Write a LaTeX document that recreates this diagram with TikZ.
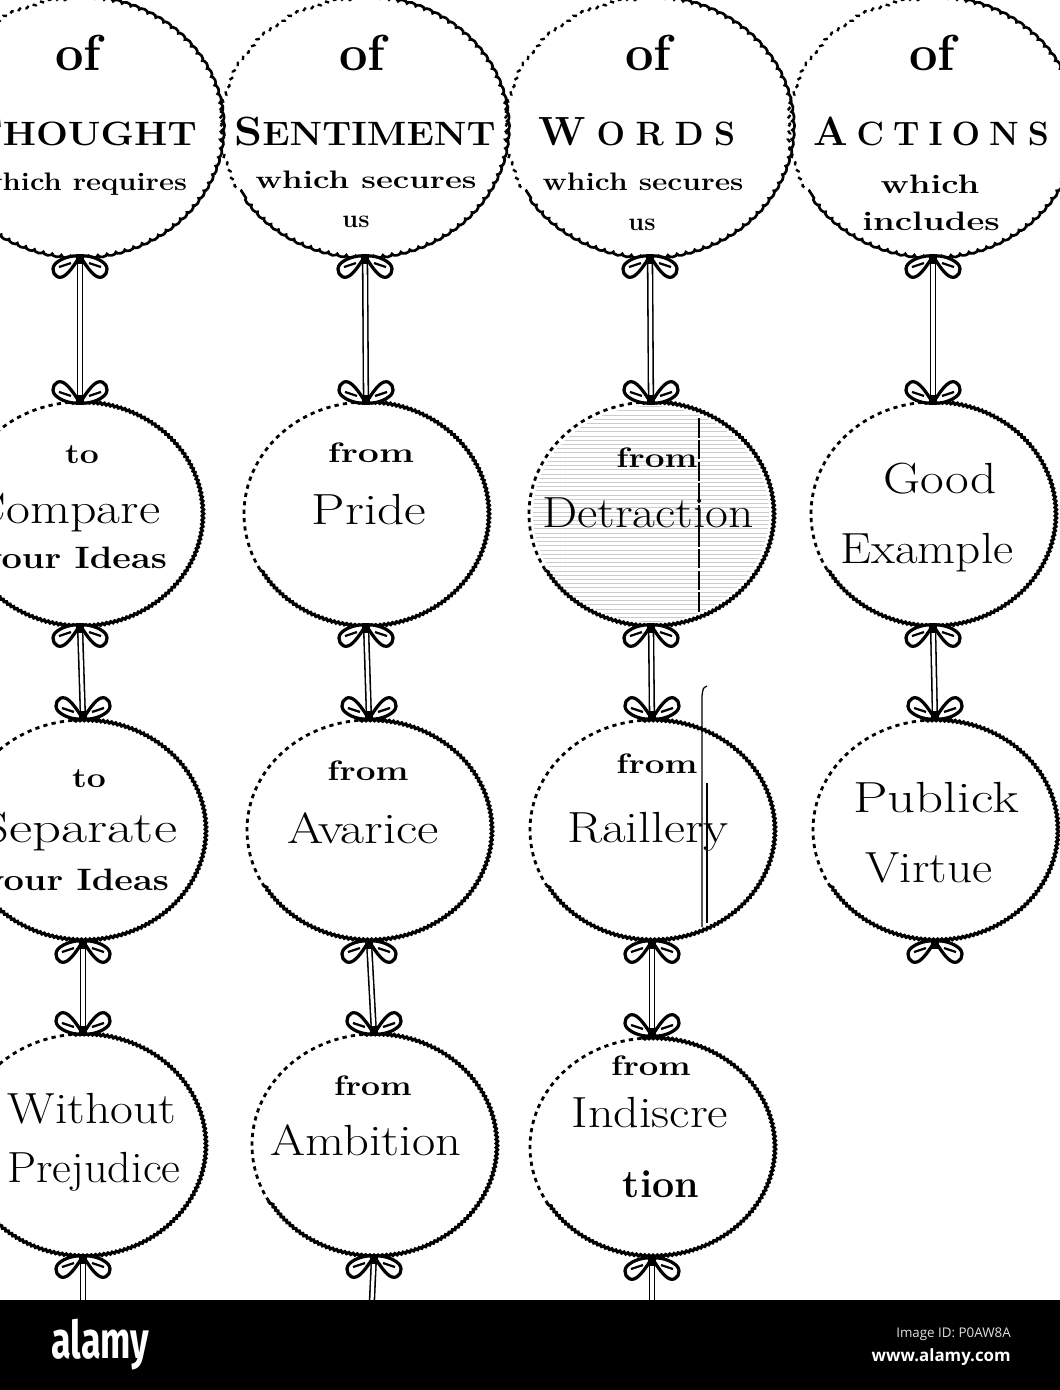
\documentclass[tikz,border=0pt]{standalone}
\usepackage{graphicx}
\usepackage{fontspec}
\newfontfamily\logofont{Fira Sans}
\newfontfamily\barfont{Open Sans}
\usetikzlibrary{shapes.geometric,decorations.pathmorphing,patterns}
\newcommand{\ws}[2]{\scalebox{#1}[1]{#2}}
\newcommand{\fs}[1]{\fontsize{#1}{#1}\selectfont}
\newcommand{\rim}[5]{%
  \draw[#4] ([shift={(95:#2 and #3)}]#1.center) arc[start angle=95, end angle=-150, x radius=#2, y radius=#3];
  \draw[#5] ([shift={(95:#2 and #3)}]#1.center) arc[start angle=95, end angle=210, x radius=#2, y radius=#3];
}
\tikzset{
  topball/.style={ellipse, draw=none, inner sep=0pt, outer sep=0pt, minimum width=7.1cm, minimum height=6.45cm},
  ball/.style={ellipse, draw=none, inner sep=0pt, outer sep=0pt, minimum width=6.1cm, minimum height=5.55cm},
  toprim/.style={line width=1.9pt, decorate, decoration={bumps, segment length=13pt, amplitude=1.8pt}},
  topdash/.style={line width=1.7pt, dash pattern=on 3pt off 3.5pt, decorate, decoration={snake, segment length=7pt, amplitude=1pt}},
  rimline/.style={line width=2.2pt, decorate, decoration={snake, segment length=3pt, amplitude=0.6pt}},
  rimdash/.style={line width=2pt, dash pattern=on 3pt off 3pt},
  stemline/.style={double=white, double distance=2.3pt, line width=1.1pt},
  bowline/.style={line width=2.3pt, fill=white, line join=round},
  txt/.style={anchor=base, inner sep=0pt, outer sep=0pt},
  scanline/.style={line width=0.9pt},
  bow/.pic={
    \draw[bowline] (0,0) .. controls (-8,1) and (-19,-2) .. (-25,-8) .. controls (-30,-14) and (-25,-23) .. (-18,-21) .. controls (-12,-19) and (-5,-8) .. (0,0);
    \draw[bowline] (0,0) .. controls (8,1) and (19,-2) .. (25,-8) .. controls (30,-14) and (25,-23) .. (18,-21) .. controls (12,-19) and (5,-8) .. (0,0);
    \draw[line width=1.6pt] (-21,-11) -- (-9,-7) (21,-11) -- (9,-7);
    \fill (-4,-8) rectangle (4,2);
  },
}
\begin{document}
\begin{tikzpicture}[x=0.025cm, y=0.025cm]
\clip (0,0) rectangle (1060,-1390);
\fill[white] (0,0) rectangle (1060,-1390);

% ---- nodes (balloons)
\node[topball] (r1c1) at (80,-127) {};
\node[topball] (r1c2) at (365,-127) {};
\node[topball] (r1c3) at (650,-127) {};
\node[topball] (r1c4) at (933,-127) {};
\node[ball] (r2c1) at (80,-514) {};
\node[ball] (r2c2) at (366,-514) {};
\node[ball] (r2c3) at (651,-514) {};
\node[ball] (r2c4) at (933,-514) {};
\node[ball] (r3c1) at (83,-830) {};
\node[ball] (r3c2) at (369,-830) {};
\node[ball] (r3c3) at (652,-830) {};
\node[ball] (r3c4) at (935,-830) {};
\node[ball] (r4c1) at (83,-1145) {};
\node[ball] (r4c2) at (374,-1145) {};
\node[ball] (r4c3) at (652,-1147) {};
\coordinate (e1) at (83,-1300);
\coordinate (e2) at (372,-1300);
\coordinate (e3) at (652,-1300);

% ---- stems
\draw[stemline] (r1c1.south) -- (r2c1.north);
\draw[stemline] (r1c2.south) -- (r2c2.north);
\draw[stemline] (r1c3.south) -- (r2c3.north);
\draw[stemline] (r1c4.south) -- (r2c4.north);
\draw[stemline] (r2c1.south) -- (r3c1.north);
\draw[stemline] (r2c2.south) -- (r3c2.north);
\draw[stemline] (r2c3.south) -- (r3c3.north);
\draw[stemline] (r2c4.south) -- (r3c4.north);
\draw[stemline] (r3c1.south) -- (r4c1.north);
\draw[stemline] (r3c2.south) -- (r4c2.north);
\draw[stemline] (r3c3.south) -- (r4c3.north);
\draw[stemline] (r4c1.south) -- (e1);
\draw[stemline] (r4c2.south) -- (e2);
\draw[stemline] (r4c3.south) -- (e3);

% ---- shading of Detraction
\fill[pattern=horizontal lines, pattern color=gray!40] (r2c3.center) ellipse [x radius=118, y radius=108];

% ---- rims
\rim{r1c1}{142}{129}{toprim}{topdash}
\rim{r1c2}{142}{129}{toprim}{topdash}
\rim{r1c3}{142}{129}{toprim}{topdash}
\rim{r1c4}{142}{129}{toprim}{topdash}
\rim{r2c1}{122}{112}{rimline}{rimdash}
\rim{r2c2}{122}{112}{rimline}{rimdash}
\rim{r2c3}{122}{112}{rimline}{rimdash}
\rim{r2c4}{122}{112}{rimline}{rimdash}
\rim{r3c1}{122}{110}{rimline}{rimdash}
\rim{r3c2}{122}{110}{rimline}{rimdash}
\rim{r3c3}{122}{110}{rimline}{rimdash}
\rim{r3c4}{122}{110}{rimline}{rimdash}
\rim{r4c1}{122}{111}{rimline}{rimdash}
\rim{r4c2}{122}{111}{rimline}{rimdash}
\rim{r4c3}{122}{109}{rimline}{rimdash}

% ---- bows
\foreach \n in {r1c1,r1c2,r1c3,r1c4,r2c1,r2c2,r2c3,r2c4,r3c1,r3c2,r3c3,r3c4,r4c1,r4c2,r4c3}
  {\pic at (\n.south) {bow};}
\foreach \n in {r2c1,r2c2,r2c3,r2c4,r3c1,r3c2,r3c3,r3c4,r4c1,r4c2,r4c3}
  {\pic[yscale=-1] at (\n.north) {bow};}

% ---- scan lines
\draw[scanline, dash pattern=on 14pt off 1.5pt] (699,-418) -- (699,-613);
\draw[scanline] (707,-686) .. controls (703,-688) .. (702,-696) -- (702,-927);
\draw[scanline] (707,-783) -- (707,-923);

% ---- row 1 texts
\node[txt] (t1c1a) at (78,-70) {\bfseries\fs{36}of};
\node[txt] (t1c1b) at (82,-145) {\ws{1.12}{\bfseries\fs{29}T\fs{24}HOUGHT}};
\node[txt] (t1c1c) at (83,-190) {\ws{1.15}{\bfseries\fs{18}which requires}};
\node[txt] (t1c2a) at (362,-70) {\bfseries\fs{36}of};
\node[txt] (t1c2b) at (365,-145) {\ws{1.1}{\bfseries\fs{29}S\fs{24}ENTIMENT}};
\node[txt] (t1c2c) at (366,-188) {\ws{1.3}{\bfseries\fs{18}which secures}};
\node[txt] (t1c2d) at (356,-227) {\bfseries\fs{18}us};
\node[txt] (t1c3a) at (648,-70) {\bfseries\fs{36}of};
\node[txt] (t1c3b) at (637,-145) {\bfseries\fs{29}W\hspace{7.5pt}\fs{24}O\hspace{7.5pt}R\hspace{7.5pt}D\hspace{7.5pt}S};
\node[txt] (t1c3c) at (643,-190) {\ws{1.18}{\bfseries\fs{18}which secures}};
\node[txt] (t1c3d) at (642,-230) {\bfseries\fs{18}us};
\node[txt] (t1c4a) at (932,-70) {\bfseries\fs{36}of};
\node[txt] (t1c4b) at (931,-145) {\bfseries\fs{29}A\hspace{6.4pt}\fs{24}C\hspace{6.4pt}T\hspace{6.4pt}I\hspace{6.4pt}O\hspace{6.4pt}N\hspace{6.4pt}S};
\node[txt] (t1c4c) at (930,-193) {\ws{1.3}{\bfseries\fs{19}which}};
\node[txt] (t1c4d) at (931,-230) {\ws{1.3}{\bfseries\fs{19}includes}};

% ---- row 2 texts
\node[txt] (t2c1a) at (82,-463) {\ws{1.2}{\bfseries\fs{20}to}};
\node[txt] (t2c1b) at (66,-523) {\ws{1.19}{\fs{31}Compare}};
\node[txt] (t2c1c) at (74,-568) {\ws{1.17}{\bfseries\fs{22}your Ideas}};
\node[txt] (t2c2a) at (371,-462) {\ws{1.33}{\bfseries\fs{20}from}};
\node[txt] (t2c2b) at (369,-524) {\ws{1.22}{\fs{31}Pride}};
\node[txt] (t2c3a) at (657,-467) {\ws{1.25}{\bfseries\fs{20}from}};
\node[txt] (t2c3b) at (648,-527) {\ws{1.14}{\fs{31}Detraction}};
\node[txt] (t2c4a) at (940,-493) {\ws{1.18}{\fs{31}Good}};
\node[txt] (t2c4b) at (927,-563) {\ws{1.13}{\fs{31}Example}};

% ---- row 3 texts
\node[txt] (t3c1a) at (89,-787) {\ws{1.2}{\bfseries\fs{20}to}};
\node[txt] (t3c1b) at (79,-842) {\ws{1.3}{\fs{31}Separate}};
\node[txt] (t3c1c) at (76,-890) {\ws{1.17}{\bfseries\fs{22}your Ideas}};
\node[txt] (t3c2a) at (368,-780) {\ws{1.25}{\bfseries\fs{20}from}};
\node[txt] (t3c2b) at (363,-843) {\ws{1.2}{\fs{31}Avarice}};
\node[txt] (t3c3a) at (657,-773) {\ws{1.25}{\bfseries\fs{20}from}};
\node[txt] (t3c3b) at (648,-842) {\ws{1.18}{\fs{31}Raillery}};
\node[txt] (t3c4a) at (936,-812) {\ws{1.26}{\fs{31}Publick}};
\node[txt] (t3c4b) at (929,-882) {\ws{1.13}{\fs{31}Virtue}};

% ---- row 4 texts
\node[txt] (t4c1a) at (92,-1123) {\ws{1.14}{\fs{31}Without}};
\node[txt] (t4c1b) at (94,-1182) {\ws{1.06}{\fs{31}Prejudice}};
\node[txt] (t4c2a) at (373,-1095) {\ws{1.2}{\bfseries\fs{20}from}};
\node[txt] (t4c2b) at (366,-1155) {\ws{1.16}{\fs{31}Ambition}};
\node[txt] (t4c3a) at (651,-1075) {\ws{1.23}{\bfseries\fs{20}from}};
\node[txt] (t4c3b) at (650,-1127) {\ws{1.15}{\fs{31}Indiscre}};
\node[txt] (t4c3c) at (661,-1197) {\bfseries\fs{28}tion};

% ---- watermark bar
\fill[black] (0,-1300) rectangle (1060,-1390);
\node[anchor=base west, inner sep=0pt, text=white] (logo) at (51,-1358) {\ws{0.69}{\logofont\bfseries\fs{37}alamy}};
\node[anchor=base east, inner sep=0pt, text=white!88!black] (imgid) at (1011,-1337) {\barfont\fs{9.5}Image ID: P0AW8A};
\node[anchor=base east, inner sep=0pt, text=white] (site) at (1011,-1361) {\barfont\bfseries\fs{12}www.alamy.com};
\end{tikzpicture}
\end{document}
